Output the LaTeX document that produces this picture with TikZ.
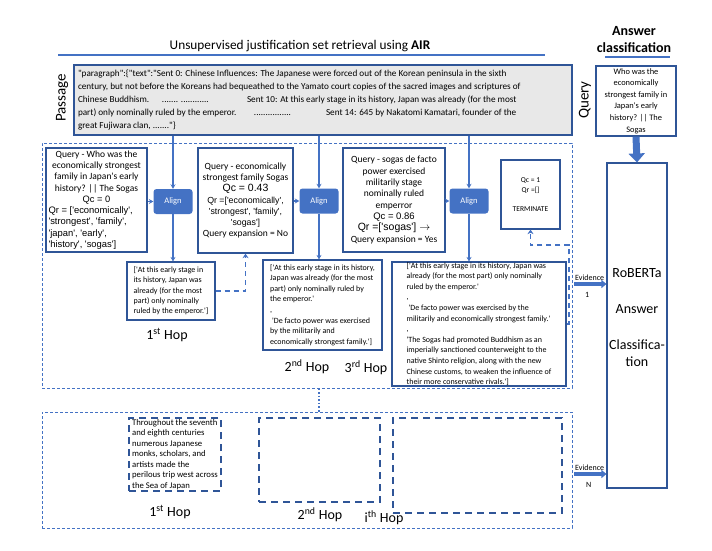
\documentclass[tikz,border=0pt]{standalone}
\usepackage{fontspec}
\setmainfont{Carlito}[Ligatures=TeXOff]
\newfontfamily\arialfont{Liberation Sans}[Ligatures=TeXOff]
\usetikzlibrary{arrows.meta,positioning}
\definecolor{airblue}{RGB}{68,114,196}
\definecolor{boxblue}{RGB}{47,85,151}
\definecolor{passgray}{RGB}{232,232,232}
\newcommand{\fsz}[2]{\fontsize{#1}{#2}\selectfont}
\newcommand{\pline}[1]{\makebox[490pt][l]{#1}}

\begin{document}
\begin{tikzpicture}[x=1pt,y=-1pt,inner sep=0pt]
    \tikzstyle{flow}=[draw=airblue,line width=1.1pt,-{Stealth[length=4.5pt,width=5pt]}]
    \tikzstyle{feedback}=[draw=airblue,line width=1.7pt,dash pattern=on 5pt off 4pt,-{Stealth[length=4.5pt,width=6pt]}]
    \tikzstyle{evidence}=[draw=airblue,line width=3.5pt,-{Triangle[length=5pt,width=8pt]}]
    \tikzstyle{solid box}=[draw=boxblue,line width=1.3pt,rectangle]
    \tikzstyle{query box}=[solid box,align=center,font=\fsz{9.5}{11.3}]
    \tikzstyle{evidence box}=[solid box,line width=1.1pt,align=left,font=\fsz{8}{10.6}]
    \tikzstyle{align node}=[rectangle,rounded corners=3pt,fill=airblue,text=white,font=\fsz{8.5}{10},minimum width=39,minimum height=25]
    \tikzstyle{hop frame}=[draw=airblue,line width=0.8pt,dash pattern=on 3pt off 2pt]
    \tikzstyle{empty hop}=[draw=boxblue,line width=1.8pt,dash pattern=on 7pt off 5pt,align=left,font=\fsz{8.7}{10.5}]
    \tikzstyle{hop}=[font=\fsz{14}{16}]
    \tikzstyle{annot}=[font=\fsz{8}{9}]
    \tikzstyle{side label}=[rotate=90,font=\fsz{15}{17}]

    \useasboundingbox (0,0) rectangle (712,551);

    % Headings
    \node[font=\fsz{13.3}{15}] (title) at (300,46) {Unsupervised justification set retrieval using \textbf{AIR}};
    \draw[airblue,line width=2pt] (58,55) -- (545,55);
    \node[font=\bfseries\fsz{14}{17},align=center] (answer title) at (634,39.5) {Answer\\classification};
    \draw[airblue,line width=2pt] (605,57) -- (670,57);

    % Passage and query
    \node[side label] (passage label) at (62,98) {Passage};
    \node[solid box,fill=passgray,align=left,font=\fsz{9.2}{13},minimum width=498,minimum height=70] (passage) at (323,100) {\pline{"paragraph":\{"text":"Sent 0: Chinese Influences: The Japanese were forced out of the Korean peninsula in the sixth}\\\pline{century, but not before the Koreans had bequeathed to the Yamato court copies of the sacred images and scriptures of}\\\pline{\makebox[84pt][l]{Chinese Buddhism.}\makebox[85pt][l]{....... ............}Sent 10: At this early stage in its history, Japan was already (for the most}\\\pline{\makebox[176pt][l]{part) only nominally ruled by the emperor.}\makebox[72pt][l]{................}Sent 14: 645 by Nakatomi Kamatari, founder of the}\\\pline{great Fujiwara clan, ......."\}}};
    \node[side label] (query label) at (585,100) {Query};
    \node[solid box,align=center,font=\fsz{8.4}{11.6},minimum width=80,minimum height=70] (query) at (636,101) {Who was the\\economically\\strongest family in\\Japan's early\\history? || The\\Sogas};

    % First hops
    \node[hop frame,minimum width=530,minimum height=245] (hops-1) at (307,265.5) {};
    \node[query box,minimum width=101,minimum height=104] (Q-1) at (96.5,200) {Query - Who was the\\economically strongest\\family in Japan's early\\history? || The Sogas\\{\arialfont\fsz{9.3}{11.3}Qc = 0}\\\makebox[96pt][l]{\arialfont\fsz{9.4}{11.3}Qr = ['economically',}\\\makebox[96pt][l]{\arialfont\fsz{9.4}{11.3}'strongest', 'family',}\\\makebox[96pt][l]{\arialfont\fsz{9.4}{11.3}'japan', 'early',}\\\makebox[96pt][l]{\arialfont\fsz{9.4}{11.3}'history', 'sogas']}};
    \node[query box,minimum width=95,minimum height=105] (Q-2) at (245.5,200.5) {Query - economically\\strongest family Sogas\\{\arialfont\fsz{10.5}{11.3}Qc = 0.43}\\{\arialfont\fsz{8.8}{11.3}Qr =['economically',}\\{\arialfont\fsz{8.8}{11.3}'strongest', 'family',}\\{\arialfont\fsz{8.8}{11.3}'sogas']}\\Query expansion = No};
    \node[query box,minimum width=102,minimum height=104] (Q-3) at (394,200) {Query - sogas de facto\\power exercised\\militarily stage\\nominally ruled\\emperror\\{\arialfont\fsz{9.5}{11.3}Qc = 0.86}\\{\arialfont\fsz{10.5}{11.3}Qr =['sogas'] $\rightarrow$}\\Query expansion = Yes};
    \node[solid box,line width=1.2pt,align=center,font=\fsz{7.5}{10},minimum width=59,minimum height=69] (T) at (530.5,194.5) {Qc = 1\\Qr =[]\\[9pt]TERMINATE};

    \node[align node] (A-1) at (173,201.5) {Align};
    \node[align node] (A-2) at (319,201) {Align};
    \node[align node] (A-3) at (469,201) {Align};

    \node[evidence box,font=\fsz{8}{10.3},minimum width=88,minimum height=58] (E-1) at (171,291) {['At this early stage in\\its history, Japan was\\already (for the most\\part) only nominally\\ruled by the emperor.']};
    \node[evidence box,minimum width=119,minimum height=90] (E-2) at (322.5,305) {['At this early stage in its history,\\Japan was already (for the most\\part) only nominally ruled by\\the emperor.'\\,\\\hspace*{2pt}'De facto power was exercised\\by the militarily and\\economically strongest family.']};
    \node[evidence box,minimum width=174,minimum height=124] (E-3) at (479,324) {['At this early stage in its history, Japan was\\already (for the most part) only nominally\\ruled by the emperor.'\\,\\\hspace*{2pt}'De facto power was exercised by the\\militarily and economically strongest family.'\\,\\'The Sogas had promoted Buddhism as an\\imperially sanctioned counterweight to the\\native Shinto religion, along with the new\\Chinese customs, to weaken the influence of\\their more conservative rivals.']};

    \node[hop] at (167,335) {1\textsuperscript{st} Hop};
    \node[hop] at (307,367) {2\textsuperscript{nd} Hop};
    \node[hop] at (366,368) {3\textsuperscript{rd} Hop};

    \foreach \i in {1,2,3} {
        \draw[flow] (passage.south -| A-\i.north) -- (A-\i.north);
        \draw[flow] (Q-\i.east |- A-\i.west) -- (A-\i.west);
        \draw[flow] (A-\i.south) -- (A-\i.south |- E-\i.north);
    }
    \draw[feedback] (E-1.east) -| (Q-2.south);
    \coordinate (turn) at (569,245);
    \draw[feedback] (E-3.east) -| (turn) -| (T.south);

    % Further hops
    \node[hop frame,minimum width=530,minimum height=116] (hops-2) at (307,470) {};
    \draw[airblue,line width=1.6pt,dotted] (hops-1.south -| A-2) -- (hops-2.north -| A-2);
    \node[empty hop,minimum width=92,minimum height=73] (B-1) at (175,454.5) {Throughout the seventh\\and eighth centuries\\numerous Japanese\\monks, scholars, and\\artists made the\\perilous trip west across\\the Sea of Japan};
    \node[empty hop,minimum width=121,minimum height=84] (B-2) at (319.5,460) {};
    \node[empty hop,minimum width=169,minimum height=95] (B-3) at (477.5,465.5) {};
    \node[hop] at (170,512) {1\textsuperscript{st} Hop};
    \node[hop] at (320,515) {2\textsuperscript{nd} Hop};
    \node[hop] at (384,518) {i\textsuperscript{th} Hop};

    % Answer classification
    \node[solid box,line width=1.1pt,minimum width=60,minimum height=325] (roberta) at (637,325.5) {};
    \node[align=center,font=\fsz{14}{17}] (roberta text) at (637,317.5) {RoBERTa\\[19pt]Answer\\[19pt]Classifica-\\tion};
    \draw[airblue,line width=7pt,-{Triangle[length=9pt,width=16pt]}] (query.south) -- (roberta.north);

    \coordinate (ev-1) at (574,284);
    \coordinate (ev-N) at (574,474);
    \draw[evidence] (ev-1) -- (ev-1 -| roberta.west);
    \draw[evidence] (ev-N) -- (ev-N -| roberta.west);
    \node[annot,above right=3pt and 1pt of ev-1] {Evidence};
    \node[annot,below right=8pt and 11pt of ev-1] {1};
    \node[annot,above right=3pt and 1pt of ev-N] {Evidence};
    \node[annot,below right=8pt and 12pt of ev-N] {N};
\end{tikzpicture}
\end{document}
